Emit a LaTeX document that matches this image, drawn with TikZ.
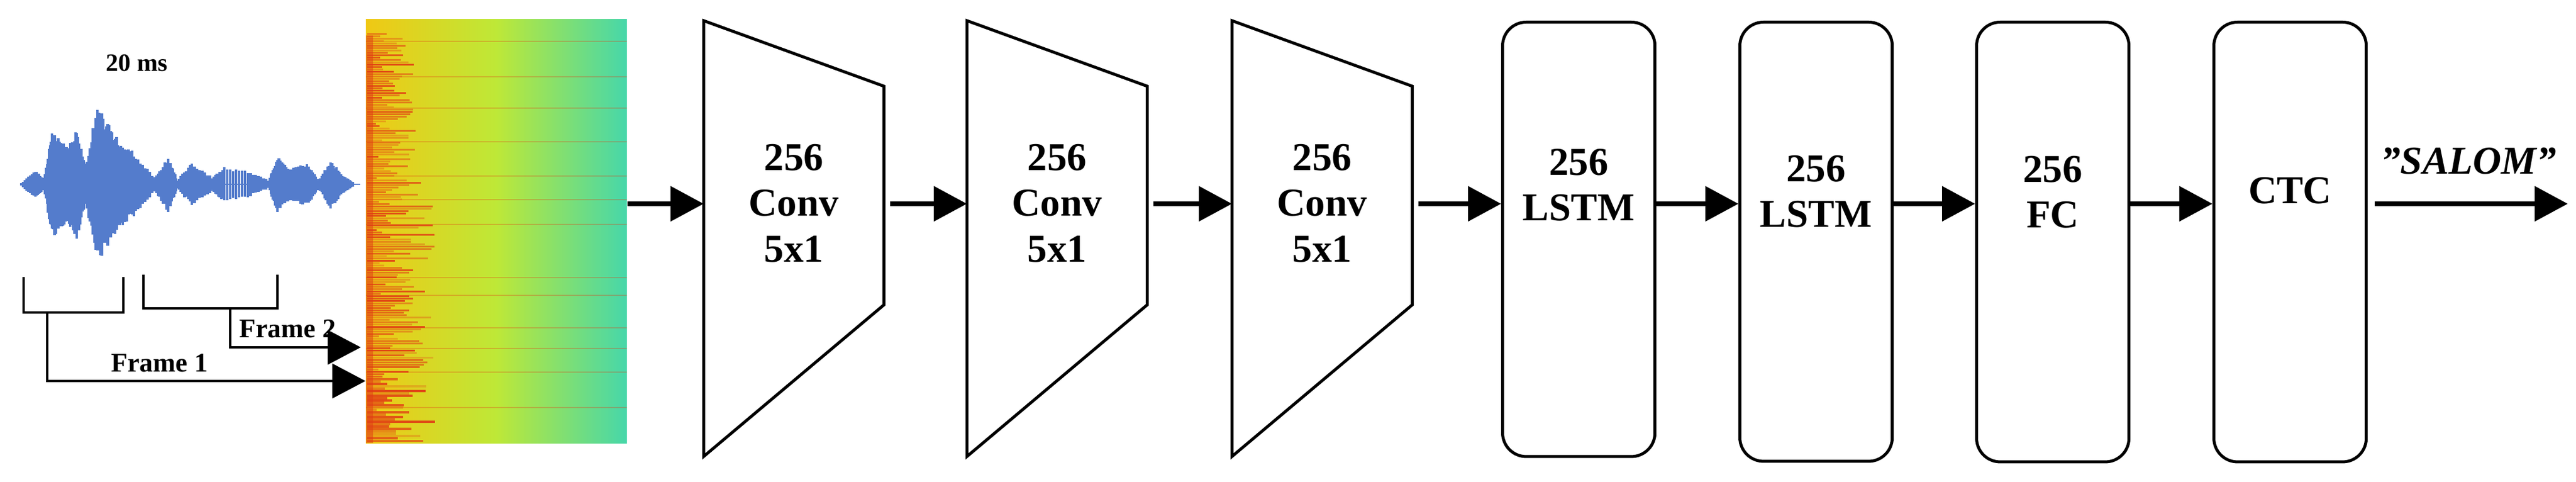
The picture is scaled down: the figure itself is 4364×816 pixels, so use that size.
\documentclass[tikz,border=0pt]{standalone}
\usepackage{fontspec}
\setmainfont{Liberation Serif}
\usetikzlibrary{arrows.meta,calc}
\definecolor{wave}{RGB}{84,124,204}
\definecolor{spL}{RGB}{240,200,20}
\definecolor{spM}{RGB}{190,232,55}
\definecolor{spR}{RGB}{70,215,170}
\definecolor{streak}{RGB}{225,60,20}
\tikzset{
  arr/.style={line width=0.08cm,-{Triangle[length=0.56cm,width=0.58cm]}},
  layerbox/.style={draw,line width=0.05cm,rounded corners=0.4cm,inner sep=0,minimum width=2.58cm},
  frame/.style={inner sep=0,minimum width=3.04cm,minimum height=7.36cm},
  big/.style={font=\fontsize{19}{22}\selectfont\bfseries,align=center},
  small/.style={font=\fontsize{13}{15}\selectfont\bfseries},
  brk/.style={line width=0.04cm},
}
\begin{document}
\begin{tikzpicture}[x=0.01cm,y=-0.01cm]
\useasboundingbox (0,0) rectangle (4364,816);
\pgfmathsetseed{7}
% waveform
\draw[wave,line width=0.02cm] (36,312) -- (610,312);
\foreach \xa/\aa/\xb/\ab in {36/0/60/23,60/23/75/5,75/5/88/90,88/90/105/70,105/70/115/62,115/62/130/95,130/95/145/30,145/30/165/135,165/135/185/100,185/100/205/72,205/72/230/50,230/50/262/10,262/10/285/45,285/45/300/5,300/5/325/35,325/35/360/10,360/10/380/28,380/28/420/20,420/20/455/5,455/5/470/45,470/45/490/25,490/25/520/35,520/35/540/5,540/5/560/40,560/40/580/15,580/15/600/0}{
  \foreach \t in {0,0.125,...,0.9}{
    \pgfmathsetmacro\xx{\xa+\t*(\xb-\xa)}
    \pgfmathsetmacro\am{(\aa+\t*(\ab-\aa))*(0.8+0.2*rnd)+2}
    \pgfmathsetmacro\bm{(\aa+\t*(\ab-\aa))*(0.8+0.2*rnd)+2}
    \draw[wave,line width=0.045cm] (\xx,312-\am) -- (\xx,312+\bm);
  }
}
\node[small,font=\fontsize{12}{14}\selectfont\bfseries] (ms) at (232,107) {20 ms};
% spectrogram
\node[inner sep=0,minimum width=4.42cm,minimum height=7.17cm,left color=spL,right color=spR,middle color=spM] (spec) at (841,391.5) {};
\begin{scope}
\clip (spec.south west) rectangle (spec.north east);
\foreach \yy in {70,130,183,240,298,338,380,470,500,555,590,630,690}{
  \draw[streak,opacity=0.3,line width=0.025cm] (620,\yy) -- (1062,\yy);
}
\foreach \yy in {58,62,...,748}{
  \pgfmathsetmacro\ll{15+ (\yy>300 ? 100 : 70)*rnd}
  \pgfmathsetmacro\op{0.25+0.65*rnd}
  \draw[streak,opacity=\op,line width=0.03cm] (622,\yy) -- ++(\ll,0);
}
\fill[streak,opacity=0.5] (620,60) rectangle (632,750);
\end{scope}
% brackets and frame arrows
\draw[brk] (40,469) -- (40,529) -- (209,529) -- (209,469);
\draw[brk] (243,465) -- (243,522) -- (470,522) -- (470,465);
\coordinate (f1) at (80,529);
\coordinate (f2) at (390,522);
\draw[arr,line width=0.04cm] (f1) |- (spec.west |- 0,645);
\draw[arr,line width=0.04cm] (f2) |- ($(spec.west |- 0,588)+(-8,0)$);
\node[small,anchor=west] (fr2) at (393,557) {Frame 2};
\node[small] (fr1) at (270,615) {Frame 1};
% conv layers
\coordinate (row) at (0,345);
\foreach \n/\x in {c1/1192,c2/1638,c3/2087}{
  \node[frame,anchor=north west] (\n) at (\x,35) {};
  \draw[line width=0.05cm,line join=miter] (\n.north west) -- ($(\n.north east)+(0,111)$) -- ($(\n.north east)+(0,481)$) -- (\n.south west) -- cycle;
  \node[big] at ($(\n.center)+(0,-60)$) {256\\Conv\\5x1};
}
% rounded layers
\node[layerbox,minimum height=7.35cm,anchor=north west] (l1) at (2543,35) {};
\node[layerbox,minimum height=7.43cm,anchor=north west] (l2) at (2945,35) {};
\node[layerbox,minimum height=7.44cm,anchor=north west] (fc) at (3346,35) {};
\node[layerbox,minimum height=7.44cm,anchor=north west] (ctc) at (3748,35) {};
\node[big] at ($(l1.north)+(0,278)$) {256\\LSTM};
\node[big] at ($(l2.north)+(0,289)$) {256\\LSTM};
\node[big] at ($(fc.north)+(0,290)$) {256\\FC};
\node[big] at ($(ctc.north)+(0,288)$) {CTC};
\coordinate (out) at (4350,345);
\node[big,font=\fontsize{19}{22}\selectfont\bfseries\itshape] (salom) at (4182,273) {\symbol{34}SALOM\symbol{34}};
% main arrows
\draw[arr] (spec.east |- row) -- (c1.west |- row);
\draw[arr] ($(c1.east |- row)+(10,0)$) -- (c2.west |- row);
\draw[arr] ($(c2.east |- row)+(10,0)$) -- (c3.west |- row);
\draw[arr] ($(c3.east |- row)+(10,0)$) -- (l1.west |- row);
\draw[arr] (l1.east |- row) -- (l2.west |- row);
\draw[arr] (l2.east |- row) -- (fc.west |- row);
\draw[arr] (fc.east |- row) -- (ctc.west |- row);
\draw[arr] ($(ctc.east |- row)+(12,0)$) -- (out);
\end{tikzpicture}
\end{document}
